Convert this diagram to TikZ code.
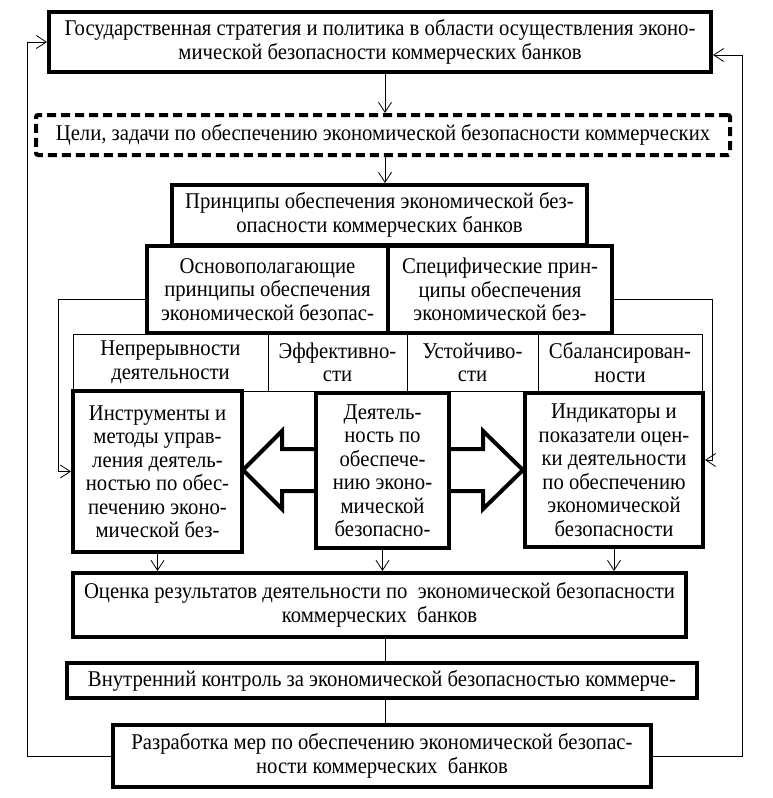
\documentclass[tikz,border=0pt]{standalone}
\usepackage{fontspec}
\setmainfont{Liberation Serif}[FakeStretch=0.92]
\usetikzlibrary{arrows.meta}
\tikzset{
  thickbox/.style={draw,line width=4pt,fill=white,align=center,inner sep=2pt,
    font=\fontsize{22.5}{23.5}\selectfont},
  thinbox/.style={thickbox,line width=0.8pt},
  dashbox/.style={thickbox,dash pattern=on 9pt off 5pt,rounded corners=2pt},
  flow/.style={line width=0.8pt,-{Straight Barb[length=10pt,width=13pt]}},
  link/.style={line width=0.8pt},
}

\begin{document}
\begin{tikzpicture}[x=1pt,y=-1pt]
  \useasboundingbox (0,0) rectangle (773,798);
  %
  % rails for the connectors
  \coordinate (spine) at (385,0);
  \coordinate (leftrail) at (27,0);
  \coordinate (rightrail) at (742,0);
  \coordinate (innerleft) at (58,0);
  \coordinate (innerright) at (712,0);
  %
  % upper part of the scheme
  \node[thickbox,minimum width=662pt,minimum height=60pt] (gos) at (380,42)
    {Государственная стратегия и политика в области осуществления эконо-\\мической безопасности коммерческих банков};
  \node[dashbox,minimum width=694pt,minimum height=40pt] (goals) at (383,135)
    {Цели, задачи по обеспечению экономической безопасности коммерческих};
  \node[thickbox,minimum width=415pt,minimum height=60pt] (princ) at (379.5,215)
    {Принципы обеспечения экономической без-\\опасности коммерческих банков};
  \node[thickbox,minimum width=241pt,minimum height=87pt] (basic) at (267.5,289.5)
    {Основополагающие\\принципы обеспечения\\экономической безопас-};
  \node[thickbox,minimum width=224pt,minimum height=87pt] (spec) at (500,289.5)
    {Специфические прин-\\ципы обеспечения\\экономической без-};
  %
  % row of principles
  \node[thinbox,minimum width=195pt,minimum height=57pt] (cont) at (170.5,362.5) {Непрерывности\\деятельности};
  \node[thinbox,minimum width=139pt,minimum height=57pt] (eff)  at (337.5,362.5) {Эффективно-\\сти};
  \node[thinbox,minimum width=131pt,minimum height=57pt] (stab) at (472.5,362.5) {Устойчиво-\\сти};
  \node[thinbox,minimum width=164pt,minimum height=57pt] (bal)  at (620,362.5)   {Сбалансирован-\\ности};
  %
  % big double arrow behind the middle box
  \draw[line width=4pt,fill=white,line join=miter]
    (243,470) -- (282,431) -- (282,449) -- (483,449) -- (483,431) -- (523,470)
    -- (483,509) -- (483,491) -- (282,491) -- (282,509) -- cycle;
  %
  \node[thickbox,minimum width=169pt,minimum height=161pt] (tools) at (157.5,471.5)
    {Инструменты и\\методы управ-\\ления деятель-\\ностью по обес-\\печению эконо-\\мической без-};
  \node[thickbox,minimum width=133pt,minimum height=155pt] (activity) at (382.5,470.5)
    {Деятель-\\ность по\\обеспече-\\нию эконо-\\мической\\безопасно-};
  \node[thickbox,minimum width=178pt,minimum height=154pt] (indic) at (614,470)
    {Индикаторы и\\показатели оцен-\\ки деятельности\\по обеспечению\\экономической\\безопасности};
  %
  % lower part of the scheme
  \node[thickbox,minimum width=613pt,minimum height=64pt] (assess) at (379.5,605)
    {Оценка результатов деятельности по~ экономической безопасности\\коммерческих~ банков};
  \node[thickbox,minimum width=630pt,minimum height=35pt] (control) at (382,680.5)
    {Внутренний контроль за экономической безопасностью коммерче-};
  \node[thickbox,minimum width=538pt,minimum height=62pt] (measures) at (382,756)
    {Разработка мер по обеспечению экономической безопас-\\ности коммерческих~ банков};
  %
  % draw connectors
  \draw[flow] (gos.south -| spine) -- (goals.north -| spine);
  \draw[flow] (goals.south -| spine) -- (princ.north -| spine);
  \foreach \n in {tools,activity,indic}
    \draw[flow] (\n.south) -- (\n.south |- assess.north);
  \draw[link] (assess.south -| spine) -- (control.north -| spine);
  \draw[link] (control.south -| spine) -- (measures.north -| spine);
  %
  % feedback lines
  \draw[flow] ([yshift=-10pt]basic.west) -- ([yshift=-10pt]basic.west -| innerleft) |- (tools.west);
  \draw[flow] ([yshift=-10pt]spec.east) -- ([yshift=-10pt]spec.east -| innerright) |- ([yshift=10pt]indic.east);
  \draw[flow] (measures.west) -- (measures.west -| leftrail) |- (gos.west);
  \draw[flow] (measures.east) -- (measures.east -| rightrail) |- ([yshift=-13pt]gos.east);
\end{tikzpicture}
\end{document}
